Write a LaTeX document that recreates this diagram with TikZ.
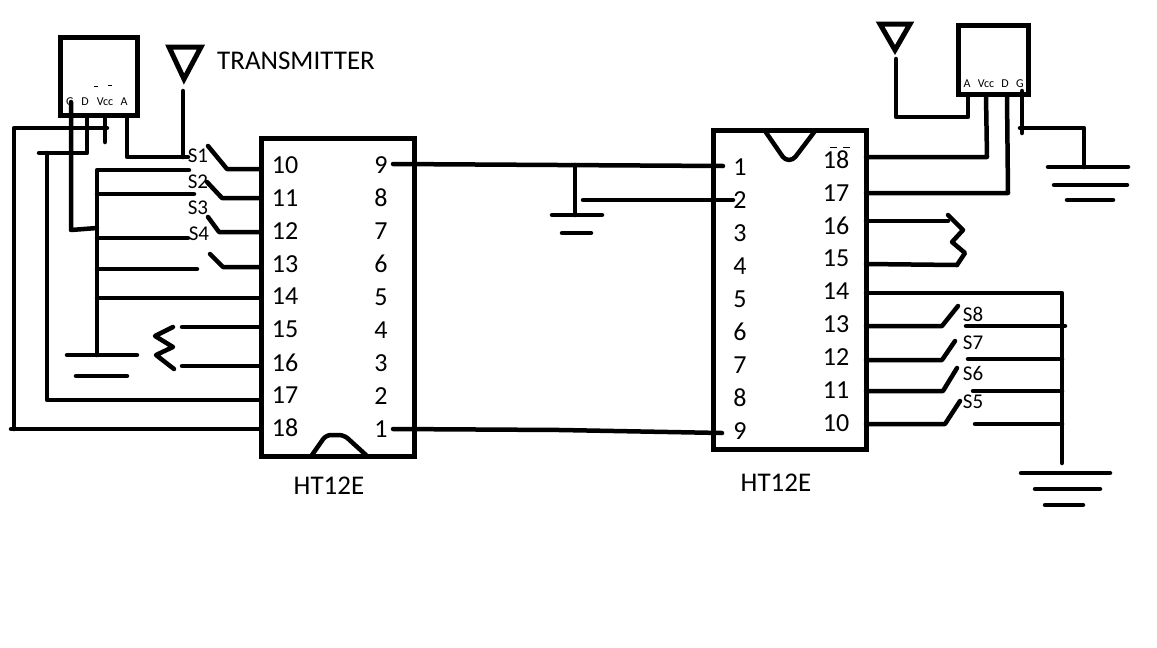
\documentclass[tikz,border=0pt]{standalone}
\usepackage{fontspec}
\setmainfont{Carlito}
\tikzstyle{chip} = [rectangle, draw=black, line width=5pt, inner sep=0pt, outer sep=0pt, minimum width=153pt, minimum height=318pt]
\tikzstyle{module} = [rectangle, draw=black, line width=5pt, inner sep=0pt, outer sep=0pt]
\tikzstyle{pinnum} = [inner sep=0pt, font=\fontsize{26}{26}\selectfont]
\tikzstyle{swname} = [inner sep=0pt, font=\fontsize{21}{21}\selectfont]
\tikzstyle{modpin} = [inner sep=0pt, font=\fontsize{12}{12}\selectfont]
\tikzstyle{title} = [inner sep=0pt, font=\fontsize{27}{27}\selectfont]
\tikzstyle{wire} = [line width=4.5pt, line cap=round, line join=round]
\tikzstyle{aerial} = [line width=5pt, line join=miter]
\begin{document}
\begin{tikzpicture}[x=1pt, y=-1pt]
\useasboundingbox (0,0) rectangle (1157,648);

% transmitter side
\node (enc) [chip] at (337.5,297.5) {};
\node (txmod) [module, minimum width=77pt, minimum height=78pt] at (98.5,76) {};
\foreach \num [count=\i from 0] in {10,...,18}
  \node (e\num) [pinnum] at (285,{165+32.9*\i}) {\num};
\foreach \num [count=\i from 0] in {9,8,...,1}
  \node (e\num) [pinnum] at (381,{165+33*\i}) {\num};
\node (txg) [modpin] at (70,102) {G};
\node (txd) [modpin] at (85,102) {D};
\node (txv) [modpin] at (105,102) {Vcc};
\node (txa) [modpin] at (124,102) {A};
\node (s1) [swname] at (198,156) {S1};
\node (s2) [swname] at (198,182) {S2};
\node (s3) [swname] at (198,208) {S3};
\node (s4) [swname] at (199,234) {S4};
\node (txname) [title, anchor=west] at (217,61) {TRANSMITTER};
\node (encname) [title] at (329,486) {HT12E};

% receiver side
\node (dec) [chip, minimum height=319pt] at (790,290) {};
\node (rxmod) [module, minimum width=70pt, minimum height=69pt] at (993,59.5) {};
\foreach \num [count=\i from 0] in {1,...,9}
  \node (d\num) [pinnum] at (740,{167+33*\i}) {\num};
\foreach \num [count=\i from 0] in {18,17,...,10}
  \node (d\num) [pinnum] at (836,{160+32.9*\i}) {\num};
\node (rxa) [modpin] at (967,84) {A};
\node (rxv) [modpin] at (986,84) {Vcc};
\node (rxd) [modpin] at (1005,84) {D};
\node (rxg) [modpin] at (1020,84) {G};
\node (s8) [swname] at (973,314) {S8};
\node (s7) [swname] at (973,343) {S7};
\node (s6) [swname] at (973,373) {S6};
\node (s5) [swname] at (973,402) {S5};
\node (decname) [title] at (776,483) {HT12E};

% left module wires
\coordinate (gtop) at (71,102);
\coordinate (gbot) at (71,230);
\coordinate (gbus) at (97,228);
\coordinate (dtop) at (87,117);
\coordinate (dbot) at (87,153);
\coordinate (dend) at (39,153);
\coordinate (dturn) at (47,153);
\coordinate (dcor) at (47,400);
\coordinate (p17) at (260,400);
\coordinate (vtop) at (105,117);
\coordinate (vbot) at (105,142);
\coordinate (vrun) at (107,128);
\coordinate (vcor) at (14,128);
\coordinate (vdown) at (14,429);
\coordinate (vstart) at (11,429);
\coordinate (p18) at (260,429);
\coordinate (atop) at (127,117);
\coordinate (acor) at (127,157);
\coordinate (ajoin) at (183,157);
\coordinate (atx) at (183,91);
\coordinate (as1) at (188,157);

\draw [wire] (gtop) -- (gbot) -- (gbus);
\draw [wire] (dtop) -- (dbot) -- (dend);
\draw [wire] (dturn) -- (dcor) -- (p17);
\draw [wire] (vtop) -- (vbot);
\draw [wire] (vrun) -- (vcor) -- (vdown);
\draw [wire] (vstart) -- (p18);
\draw [wire] (atop) -- (acor) -- (as1);
\draw [wire] (ajoin) -- (atx);
\draw [aerial] (169,47) -- (201,47) -- (184,79) -- cycle;
\draw [line width=1pt] (94,86) -- (98,86);
\draw [line width=1pt] (108,85) -- (112,85);

% left switches
\coordinate (sa1) at (208,146);
\coordinate (sb1) at (227,169);
\coordinate (p10) at (260,169);
\coordinate (sa2) at (207,182);
\coordinate (sb2) at (222,198);
\coordinate (p11) at (260,198);
\coordinate (sa3) at (208,217);
\coordinate (sb3) at (219,232);
\coordinate (p12) at (260,232);
\coordinate (sa4) at (210,254);
\coordinate (sb4) at (223,267);
\coordinate (p13) at (260,267);
\draw [wire] (sa1) -- (sb1) -- (p10);
\draw [wire] (sa2) -- (sb2) -- (p11);
\draw [wire] (sa3) -- (sb3) -- (p12);
\draw [wire] (sa4) -- (sb4) -- (p13);

% left ground bus
\coordinate (bustop) at (97,170);
\coordinate (busbot) at (97,355);
\coordinate (bus1) at (189,170);
\coordinate (bus2a) at (97,194);
\coordinate (bus2) at (194,194);
\coordinate (bus3a) at (97,238);
\coordinate (bus3) at (188,238);
\coordinate (bus4a) at (97,269);
\coordinate (bus4) at (197,269);
\coordinate (bus5a) at (97,298);
\coordinate (p14) at (260,298);
\draw [wire] (bus1) -- (bustop) -- (busbot);
\draw [wire] (bus2a) -- (bus2);
\draw [wire] (bus3a) -- (bus3);
\draw [wire] (bus4a) -- (bus4);
\draw [wire] (bus5a) -- (p14);
\draw [wire] (67,355) -- (137,355);
\draw [wire] (76,376) -- (127,376);

% left resistor
\coordinate (r15) at (260,327);
\coordinate (r15a) at (182,327);
\coordinate (r16) at (260,366);
\coordinate (r16a) at (182,366);
\draw [wire] (r15) -- (r15a);
\draw [wire] (r16) -- (r16a);
\draw [wire] (173,327) -- (155,336) -- (173,347) -- (156,355) -- (174,369);

% link between chips
\coordinate (e9a) at (393,164);
\coordinate (d1a) at (723,166);
\coordinate (gmid) at (575,165);
\coordinate (gmidb) at (575,215);
\coordinate (d2a) at (733,200);
\coordinate (d2b) at (583,200);
\coordinate (e1a) at (393,429);
\coordinate (e1b) at (560,430);
\coordinate (d9a) at (722,433);
\draw [wire] (e9a) -- (d1a);
\draw [wire] (gmid) -- (gmidb);
\draw [wire] (d2a) -- (d2b);
\draw [wire] (e1a) -- (e1b) -- (d9a);
\draw [wire] (552,215) -- (602,215);
\draw [wire] (562,233) -- (591,233);

% right module wires
\coordinate (rxt) at (896,59);
\coordinate (rxc) at (896,117);
\coordinate (rxe) at (968,117);
\coordinate (rxat) at (968,96);
\coordinate (rvt) at (986,96);
\coordinate (rvb) at (987,157);
\coordinate (q18) at (866,157);
\coordinate (rdt) at (1007,96);
\coordinate (rdb) at (1008,193);
\coordinate (q17) at (866,193);
\coordinate (rgt) at (1022,91);
\coordinate (rgb) at (1022,133);
\coordinate (rgs) at (1020,128);
\coordinate (rgc) at (1084,128);
\coordinate (rge) at (1084,167);
\draw [wire] (rxt) -- (rxc) -- (rxe) -- (rxat);
\draw [wire] (rvt) -- (rvb) -- (q18);
\draw [wire] (rdt) -- (rdb) -- (q17);
\draw [wire] (rgt) -- (rgb);
\draw [wire] (rgs) -- (rgc) -- (rge);
\draw [aerial] (880,24) -- (910,24) -- (895,50) -- cycle;
\draw [wire] (1048,167) -- (1128,167);
\draw [wire] (1054,185) -- (1127,185);
\draw [wire] (1067,200) -- (1113,200);
\draw [line width=1pt] (830,147) -- (837,147);
\draw [line width=1pt] (843,147) -- (850,147);

% right resistor
\coordinate (q16) at (866,221);
\coordinate (qr16) at (948,221);
\coordinate (q15) at (866,264);
\coordinate (qr15) at (957,265);
\draw [wire] (q16) -- (qr16);
\draw [wire] (q15) -- (qr15);
\draw [wire] (948,215) -- (963,230) -- (952,242) -- (965,253) -- (957,265);

% right switches
\coordinate (q14) at (866,293);
\coordinate (qbus) at (1062,293);
\coordinate (qbusb) at (1062,463);
\coordinate (q13) at (866,326);
\coordinate (w13) at (942,326);
\coordinate (t13) at (958,306);
\coordinate (f13) at (966,326);
\coordinate (g13) at (1065,326);
\coordinate (q12) at (866,360);
\coordinate (w12) at (942,360);
\coordinate (t12) at (955,341);
\coordinate (f12) at (968,359);
\coordinate (g12) at (1062,359);
\coordinate (q11) at (866,391);
\coordinate (w11) at (943,391);
\coordinate (t11) at (957,368);
\coordinate (f11) at (973,391);
\coordinate (g11) at (1062,391);
\coordinate (q10) at (866,424);
\coordinate (w10) at (945,424);
\coordinate (t10) at (960,401);
\coordinate (f10) at (975,424);
\coordinate (g10) at (1062,424);
\draw [wire] (q14) -- (qbus) -- (qbusb);
\draw [wire] (q13) -- (w13) -- (t13);
\draw [wire] (f13) -- (g13);
\draw [wire] (q12) -- (w12) -- (t12);
\draw [wire] (f12) -- (g12);
\draw [wire] (q11) -- (w11) -- (t11);
\draw [wire] (f11) -- (g11);
\draw [wire] (q10) -- (w10) -- (t10);
\draw [wire] (f10) -- (g10);
\draw [wire] (1021,473) -- (1110,473);
\draw [wire] (1035,489) -- (1100,489);
\draw [wire] (1045,505) -- (1083,505);

% chip notches
\draw [wire, rounded corners=5pt] (312,455) -- (326,435) -- (344,435) -- (366,455);
\draw [wire, rounded corners=4pt] (765,131) -- (785,160) -- (793,160) -- (815,131);

\end{tikzpicture}
\end{document}
